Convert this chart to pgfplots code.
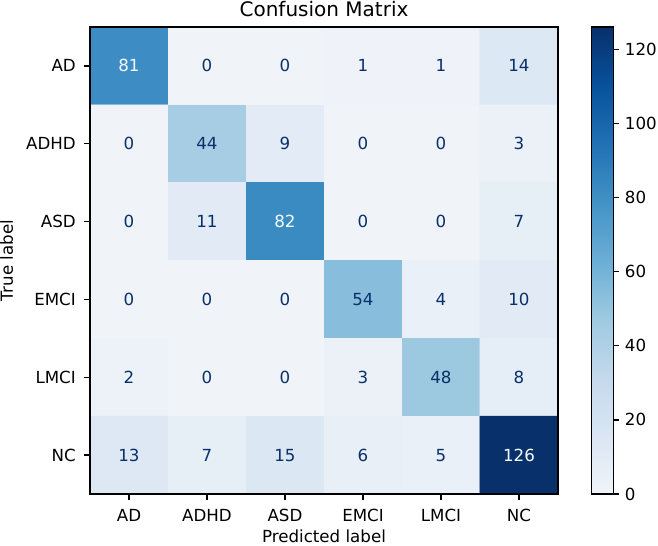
\documentclass[border=0pt]{standalone}
\usepackage{pgfplots}
\usepackage{pgfplotstable}
\pgfplotsset{compat=1.18}
\usepackage{fontspec}
\setmainfont{DejaVu Sans}

\definecolor{cmlight}{RGB}{247,251,255}
\definecolor{cmdark}{RGB}{8,48,107}

\pgfplotsset{
  /pgf/number format/assume math mode=true,
  colormap={blues}{rgb255=(240,244,249) rgb255=(218,230,243) rgb255=(196,217,236)
    rgb255=(158,202,225) rgb255=(107,174,214) rgb255=(66,146,198)
    rgb255=(33,113,181) rgb255=(8,81,156) rgb255=(8,48,107)},
}

\pgfplotstableread{
x y v
0 0 81
1 0 0
2 0 0
3 0 1
4 0 1
5 0 14
0 1 0
1 1 44
2 1 9
3 1 0
4 1 0
5 1 3
0 2 0
1 2 11
2 2 82
3 2 0
4 2 0
5 2 7
0 3 0
1 3 0
2 3 0
3 3 54
4 3 4
5 3 10
0 4 2
1 4 0
2 4 0
3 4 3
4 4 48
5 4 8
0 5 13
1 5 7
2 5 15
3 5 6
4 5 5
5 5 126
}\cm

\begin{document}
\begin{tikzpicture}
\begin{axis}[
    name=cm,
    scale only axis,
    width=280.8pt,
    height=280.2pt,
    xmin=-0.5, xmax=5.5,
    ymin=-0.5, ymax=5.5,
    y dir=reverse,
    enlargelimits=false,
    axis on top,
    axis line style={line width=0.8pt},
    xtick={0,...,5},
    ytick={0,...,5},
    xticklabels={AD,ADHD,ASD,EMCI,LMCI,NC},
    yticklabels={AD,ADHD,ASD,EMCI,LMCI,NC},
    xticklabel style={yshift=-2pt},
    yticklabel style={xshift=-1.5pt},
    tick align=outside,
    tick pos=left,
    major tick length=3.5pt,
    every tick/.style={black, line width=0.8pt},
    title={Confusion Matrix},
    title style={font=\fontsize{12}{14}\selectfont, yshift=-3.5pt},
    xlabel={Predicted label},
    xlabel style={yshift=2pt},
    ylabel={True label},
    ylabel style={yshift=1pt},
    colormap name=blues,
    point meta min=0, point meta max=126,
    colorbar,
    colorbar style={
      at={(parent axis.north east)},
      anchor=north west,
      xshift=11.4pt,
      width=13.2pt,
      ytick={0,20,...,120},
      minor ytick={},
      ytick pos=right,
      yticklabel pos=right,
      major tick length=3.5pt,
      tick align=outside,
      axis line style={line width=0.8pt},
      every tick/.style={black, line width=0.8pt},
    },
]
\addplot[
    matrix plot*,
    mesh/cols=6, mesh/rows=6,
    point meta=\thisrow{v},
] table[x=x, y=y] {\cm};
% light text for cells above half of the max
\addplot[
    only marks, mark=*, mark size=0pt,
    point meta=\thisrow{v},
    restrict expr to domain={\thisrow{v}}{64:200},
    nodes near coords,
    every node near coord/.append style={anchor=center, text=cmlight},
] table[x=x, y=y] {\cm};
% dark text for the rest
\addplot[
    only marks, mark=*, mark size=0pt,
    point meta=\thisrow{v},
    restrict expr to domain={\thisrow{v}}{-1:63},
    nodes near coords,
    every node near coord/.append style={anchor=center, text=cmdark},
] table[x=x, y=y] {\cm};
\end{axis}
\pgfresetboundingbox
\path[use as bounding box] ([xshift=-54pt,yshift=-30.6pt]cm.south west)
  rectangle ([xshift=60pt,yshift=16.2pt]cm.north east);
\end{tikzpicture}
\end{document}
